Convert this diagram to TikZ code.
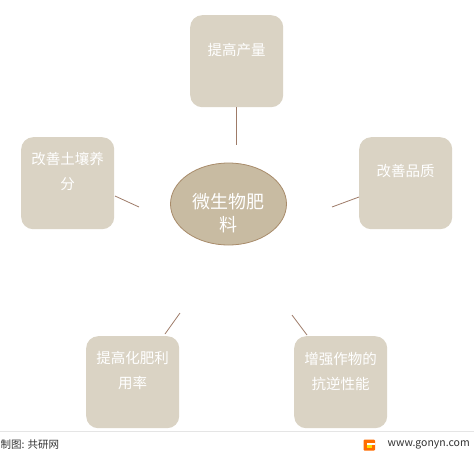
\documentclass[tikz,border=0pt]{standalone}
\usepackage{fontspec}
\newfontfamily\cjk{Noto Sans CJK SC}
\usetikzlibrary{shapes.geometric}
\definecolor{boxfill}{HTML}{DAD3C4}
\definecolor{ellfill}{HTML}{C8BBA2}
\definecolor{elldraw}{HTML}{A88B6A}
\definecolor{linkc}{HTML}{9E7B68}
\definecolor{foot}{HTML}{333333}
\tikzset{
  card/.style={fill=boxfill, draw=none, rounded corners=12pt, minimum width=93pt, minimum height=92pt, anchor=north west, inner sep=0pt},
  cardtext/.style={text=white, font=\cjk\fontsize{14.5}{25}\selectfont, align=center, anchor=north, inner sep=0pt},
  link/.style={draw=linkc, line width=0.8pt},
  foottext/.style={text=foot, font=\cjk\fontsize{10.5}{12}\selectfont, inner sep=0pt}
}
\begin{document}
\begin{tikzpicture}[x=1pt,y=-1pt]
\useasboundingbox (0,0) rectangle (474,458);
\fill[white] (0,0) rectangle (474,458);
% cards
\node[card] (top) at (190,15) {};
\node[card] (left) at (21,137) {};
\node[card] (right) at (359,137) {};
\node[card] (bl) at (86,336) {};
\node[card] (br) at (294,336) {};
% texts
\node[cardtext] (ttop) at (236.5,43) {提高产量};
\node[cardtext] (tleft) at (67.5,152) {改善土壤养\\分};
\node[cardtext] (tright) at (405.5,164) {改善品质};
\node[cardtext] (tbl) at (132.5,351) {提高化肥利\\用率};
\node[cardtext] (tbr) at (340.5,352) {增强作物的\\抗逆性能};
% centre ellipse
\node[ellipse, fill=ellfill, draw=elldraw, line width=0.8pt, minimum width=116pt, minimum height=82pt, inner sep=0pt] (c) at (228.5,204) {};
\node[text=white, font=\cjk\fontsize{18}{23}\selectfont, align=center, inner sep=0pt] (tc) at (228.5,213) {微生物肥\\料};
% connectors
\coordinate (a1) at (236,107);
\coordinate (a2) at (236,145);
\draw[link] (a1) -- (a2);
\coordinate (b1) at (115,196);
\coordinate (b2) at (139,207);
\draw[link] (b1) -- (b2);
\coordinate (c1) at (332,207);
\coordinate (c2) at (359,197);
\draw[link] (c1) -- (c2);
\coordinate (d1) at (165,334);
\coordinate (d2) at (180,313);
\draw[link] (d1) -- (d2);
\coordinate (e1) at (292,315);
\coordinate (e2) at (307,335);
\draw[link] (e1) -- (e2);
% footer
\coordinate (f1) at (0,431);
\coordinate (f2) at (474,431);
\draw[draw=black!10, line width=0.6pt] (f1) -- (f2);
\node[foottext, anchor=west] (src) at (0.5,445) {制图: 共研网};
\node[foottext, anchor=east] (web) at (470,445) {www.gonyn.com};
\fill[orange!85!red, rounded corners=1pt] (363.5,439.5) rectangle (375,450.5);
\fill[white] (366.5,443) rectangle (375,445);
\fill[yellow!80!orange] (366.5,445) rectangle (372,448);
\end{tikzpicture}
\end{document}
